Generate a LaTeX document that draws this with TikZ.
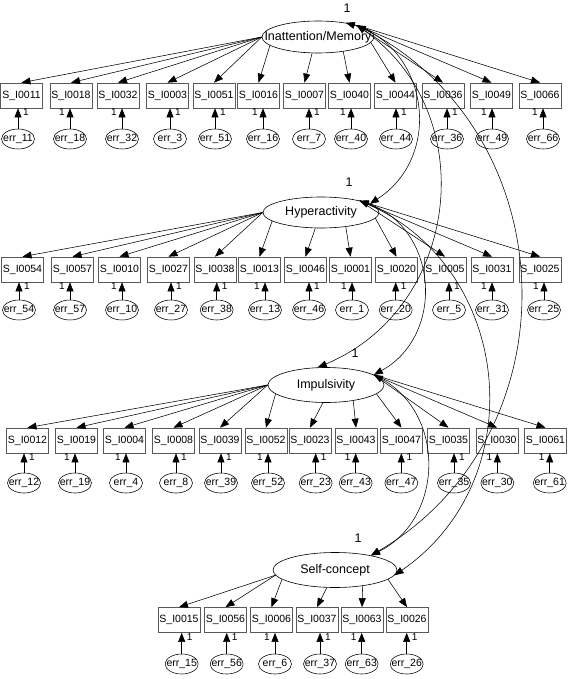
\documentclass[tikz,border=0pt]{standalone}
\usepackage{fontspec}
\setmainfont{Liberation Sans}
\usetikzlibrary{arrows.meta,shapes.geometric}

\begin{document}
\begin{tikzpicture}[x=1pt,y=-1pt,>={Triangle[length=9pt,width=7pt]},line width=0.55pt,
  factor/.style={ellipse,draw,line width=0.6pt,minimum height=32pt,inner sep=0pt,font=\fontsize{12.5}{14}\selectfont},
  item/.style={rectangle,draw=black!65,line width=0.7pt,minimum width=42pt,minimum height=25pt,inner sep=0pt,font=\fontsize{10.5}{12}\selectfont},
  err/.style={ellipse,draw,minimum width=33pt,minimum height=20pt,inner sep=0pt,font=\fontsize{10.5}{12}\selectfont},
  one/.style={inner sep=0pt,font=\fontsize{10}{11}\selectfont},
  var/.style={inner sep=0pt,font=\fontsize{12.5}{14}\selectfont}]
  \useasboundingbox (0,0) rectangle (568,679);

  % ================= latent factors =================
  \node[factor,minimum width=112pt] (mem) at (318,37) {\makebox[0pt]{Inattention/Memory}};
  \node[factor,minimum width=116pt,minimum height=31pt] (hyp) at (321,212.5) {\makebox[0pt]{Hyperactivity}};
  \node[factor,minimum width=116pt,minimum height=35pt] (imp) at (326,385) {\makebox[0pt]{Impulsivity}};
  \node[factor,minimum width=124pt,minimum height=35pt] (self) at (335,570) {\makebox[0pt]{Self-concept}};
  \node[var] at (347,8) {1};
  \node[var] at (349,182) {1};
  \node[var] at (355,353) {1};
  \node[var] at (358,538) {1};

  % ================= Inattention/Memory items =================
  \begin{scope}
    \def\yb{95.5} \def\ye{139}
    \foreach \xb/\xe/\code/\en/\sh/\ang [count=\i] in {
      21.5/18/0011/11/8/180, 71/70/0018/18/-8/180, 118/122/0032/32/-8/180,
      167.5/170/0003/3/8/180, 214/215/0051/51/8/180, 258.5/263/0016/16/-8/190,
      304.5/309/0007/7/8/250, 349.5/351/0040/40/-8/330, 395.5/396/0044/44/8/354,
      443/447/0036/36/8/17, 491.5/492/0049/49/-8/17, 540/543/0066/66/-8/17} {
      \node[item] (m\i) at (\xb,\yb) {S\_I\code};
      \node[err] (em\i) at (\xe,\ye) {\makebox[0pt]{err\_\en}};
      \draw[->] (mem.\ang) -- (m\i.north);
      \draw[->] (em\i) -- (em\i |- m\i.south);
      \node[one,xshift=\sh pt] at (\xe,\yb+17) {1};
    }
  \end{scope}

  % ================= Hyperactivity items =================
  \begin{scope}
    \def\yb{269.5} \def\ye{310}
    \foreach \xb/\xe/\code/\en/\sh/\ang [count=\i] in {
      22.5/19/0054/54/8/180, 72.5/70/0057/57/-8/180, 119.5/122/0010/10/-8/180,
      168.5/171/0027/27/8/180, 215/216.7/0038/38/8/180, 259.5/265/0013/13/-8/190,
      305.5/309/0046/46/8/250, 350.5/352/0001/1/-8/330, 396.5/395.7/0020/20/8/354,
      445/449/0005/5/8/17, 492/492/0031/31/-8/17, 540/544/0025/25/-8/17} {
      \node[item] (h\i) at (\xb,\yb) {S\_I\code};
      \node[err] (eh\i) at (\xe,\ye) {\makebox[0pt]{err\_\en}};
      \draw[->] (hyp.\ang) -- (h\i.north);
      \draw[->] (eh\i) -- (eh\i |- h\i.south);
      \node[one,xshift=\sh pt] at (\xe,\yb+17) {1};
    }
  \end{scope}

  % ================= Impulsivity items =================
  \begin{scope}
    \def\yb{440.5} \def\ye{483}
    \foreach \xb/\xe/\code/\en/\sh/\ang [count=\i] in {
      27.5/24/0012/12/8/180, 76.5/75/0019/19/-8/180, 124.5/126/0004/4/-8/180,
      173.5/176/0008/8/8/180, 220/221/0039/39/8/180, 266/268/0052/52/-8/190,
      310/315.7/0023/23/8/260, 356/355.7/0043/43/-8/330, 401.5/401.3/0047/47/8/350,
      448.5/454/0035/35/8/12, 497/497.3/0030/30/-8/12, 545.5/549.7/0061/61/-8/12} {
      \node[item] (p\i) at (\xb,\yb) {S\_I\code};
      \node[err] (ep\i) at (\xe,\ye) {\makebox[0pt]{err\_\en}};
      \draw[->] (imp.\ang) -- (p\i.north);
      \draw[->] (ep\i) -- (ep\i |- p\i.south);
      \node[one,xshift=\sh pt] at (\xe,\yb+17) {1};
    }
  \end{scope}

  % ================= Self-concept items =================
  \begin{scope}
    \def\yb{620} \def\ye{664}
    \foreach \xb/\xe/\code/\en/\sh/\ang [count=\i] in {
      179/181.7/0015/15/8/185, 225.5/226.7/0056/56/8/185, 271.5/275/0006/6/-8/190,
      317/320/0037/37/8/245, 362/361.7/0063/63/-8/330, 407/406.7/0026/26/8/350} {
      \node[item] (s\i) at (\xb,\yb) {S\_I\code};
      \node[err] (es\i) at (\xe,\ye) {\makebox[0pt]{err\_\en}};
      \draw[->] (self.\ang) -- (s\i.north);
      \draw[->] (es\i) -- (es\i |- s\i.south);
      \node[one,xshift=\sh pt] at (\xe,\yb+17) {1};
    }
  \end{scope}

  % ================= factor covariances =================
  \draw[<->] (mem.27) .. controls (427,47) and (445,155) .. (hyp.10);
  \draw[<->] (mem.17) .. controls (483,114) and (460,308) .. (imp.115);
  \draw[<->] (mem.17) .. controls (568,134) and (576,435) .. (self.22);
  \draw[<->] (hyp.17) .. controls (438,228) and (446,335) .. (imp.12);
  \draw[<->] (hyp.17) .. controls (514,269) and (533,480) .. (self.355);
  \draw[<->] (imp.12) .. controls (446,414) and (444,519) .. (self.22);
\end{tikzpicture}
\end{document}
